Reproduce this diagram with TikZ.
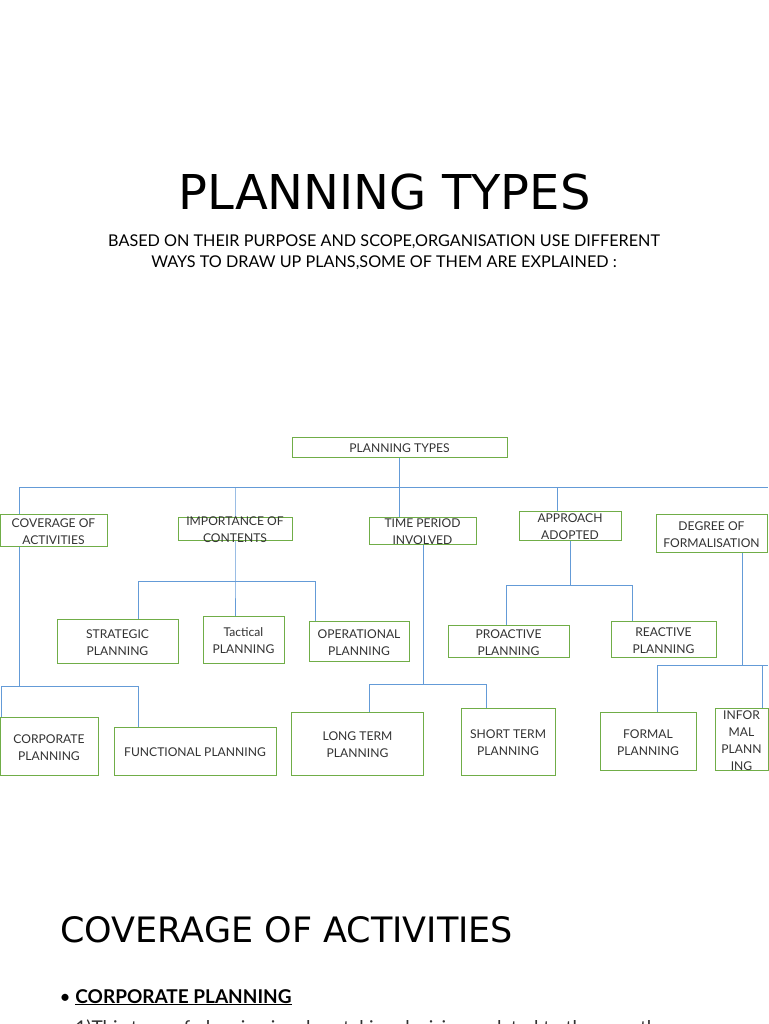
\documentclass[tikz,border=0pt]{standalone}
\usepackage{fontspec}
\setmainfont{Lato}
\newfontfamily\headfont{DejaVu Sans}
\usetikzlibrary{backgrounds}

\definecolor{boxgreen}{RGB}{112,173,71}
\definecolor{linkblue}{RGB}{100,155,215}
\definecolor{labelgray}{RGB}{50,50,50}

\tikzset{
  box/.style={draw=boxgreen, fill=white, line width=0.9pt, inner sep=0pt,
    label={[lbl]center:#1}},
  lbl/.style={align=center, inner sep=0pt, text=labelgray, yshift=-1.5pt,
    font=\fontsize{12.1}{17}\selectfont},
  link/.style={draw=linkblue, line width=0.9pt},
}

\begin{document}
\begin{tikzpicture}[x=1pt, y=-1pt]
\useasboundingbox (0,0) rectangle (768,1024);

% headings
\node[anchor=base, font=\headfont\fontsize{48}{58}\selectfont] (title) at (384.5,210) {PLANNING TYPES};
\node[anchor=base, font=\fontsize{16.2}{21}\selectfont] (intro1) at (384,247) {BASED ON THEIR PURPOSE AND SCOPE,ORGANISATION USE DIFFERENT};
\node[anchor=base, font=\fontsize{16.2}{21}\selectfont] (intro2) at (384,267) {WAYS TO DRAW UP PLANS,SOME OF THEM ARE EXPLAINED :};

% chart
\node[box={PLANNING TYPES}, minimum width=215, minimum height=20] (root) at (399.5,447) {};

\node[box={COVERAGE OF\\ACTIVITIES}, minimum width=107, minimum height=32] (cov) at (53.5,530) {};
\node[box={IMPORTANCE OF\\CONTENTS}, minimum width=114, minimum height=23] (imp) at (235,528.5) {};
\node[box={TIME PERIOD\\INVOLVED}, minimum width=107, minimum height=27] (time) at (422.5,530.5) {};
\node[box={APPROACH\\ADOPTED}, minimum width=102, minimum height=29] (appr) at (570,525.5) {};
\node[box={DEGREE OF\\FORMALISATION}, minimum width=111, minimum height=38] (deg) at (711.5,533) {};

\node[box={STRATEGIC\\PLANNING}, minimum width=121, minimum height=44] (strat) at (117.5,641) {};
\node[box={Tactical\\PLANNING}, minimum width=81, minimum height=47] (tact) at (243.5,639.5) {};
\node[box={OPERATIONAL\\PLANNING}, minimum width=100, minimum height=40] (oper) at (359,641) {};
\node[box={PROACTIVE\\PLANNING}, minimum width=121, minimum height=32] (pro) at (508.5,641) {};
\node[box={REACTIVE\\PLANNING}, minimum width=105, minimum height=36] (re) at (663.5,639) {};

\node[box={CORPORATE\\PLANNING}, minimum width=98, minimum height=58] (corp) at (49,746) {};
\node[box={FUNCTIONAL PLANNING}, minimum width=162, minimum height=48] (func) at (195,751) {};
\node[box={LONG TERM\\PLANNING}, minimum width=132, minimum height=63] (long) at (357.5,743.5) {};
\node[box={SHORT TERM\\PLANNING}, minimum width=94, minimum height=67] (short) at (508,741.5) {};
\node[box={FORMAL\\PLANNING}, minimum width=96, minimum height=58] (formal) at (648,741) {};
\node[box={INFOR\\MAL\\PLANN\\ING}, minimum width=53, minimum height=62] (informal) at (741.5,739) {};

\begin{scope}[on background layer]
\fill[white] (0,0) rectangle (768,1024);
\coordinate (busL) at (19,487);
\coordinate (busR) at (768,487);
\draw[link] (busL) -- (busR);
\draw[link] (root.south) -- (root.south |- time.north);
% coverage of activities
\coordinate (cj) at (19,686);
\coordinate (cx) at (1,686);
\coordinate (fx) at (138,686);
\draw[link] (busL) -- (cj);
\draw[link] (cx |- corp.north) |- (fx) -- (fx |- func.north);
% importance of contents
\coordinate (ij) at (235,581);
\coordinate (sx) at (138,581);
\coordinate (ox) at (315,581);
\draw[link] (ij |- busL) -- (ij) -- (ij |- tact.north);
\draw[link] (sx |- strat.north) |- (ox) -- (ox |- oper.north);
% time period involved
\coordinate (tj) at (423,684);
\coordinate (lx) at (369,684);
\coordinate (shx) at (486,684);
\draw[link] (tj |- time.south) -- (tj);
\draw[link] (lx |- long.north) |- (shx) -- (shx |- short.north);
% approach adopted
\coordinate (ax) at (557,487);
\coordinate (aj) at (570,585);
\coordinate (px) at (506,585);
\coordinate (rx) at (632,585);
\draw[link] (ax) -- (ax |- appr.north);
\draw[link] (aj |- appr.south) -- (aj);
\draw[link] (px |- pro.north) |- (rx) -- (rx |- re.north);
% degree of formalisation
\coordinate (dj) at (742,665);
\coordinate (fmx) at (657,665);
\coordinate (ix) at (762,665);
\coordinate (dR) at (768,665);
\draw[link] (dj |- deg.south) -- (dj);
\draw[link] (fmx |- formal.north) |- (dR);
\draw[link] (ix) -- (ix |- informal.north);
\end{scope}

% first section
\node[anchor=base west, font=\headfont\fontsize{35}{42}\selectfont] (covhead) at (57,942) {COVERAGE OF ACTIVITIES};
\node[anchor=base west, font=\fontsize{19}{23}\selectfont] (corpitem) at (56,1003) {• \textbf{\underline{CORPORATE PLANNING}}};
\node[anchor=base west, font=\fontsize{19}{23}\selectfont, text=labelgray] (corptext) at (56,1034) {• 1)This type of planning involves taking decisions related to the growth};
\end{tikzpicture}
\end{document}
